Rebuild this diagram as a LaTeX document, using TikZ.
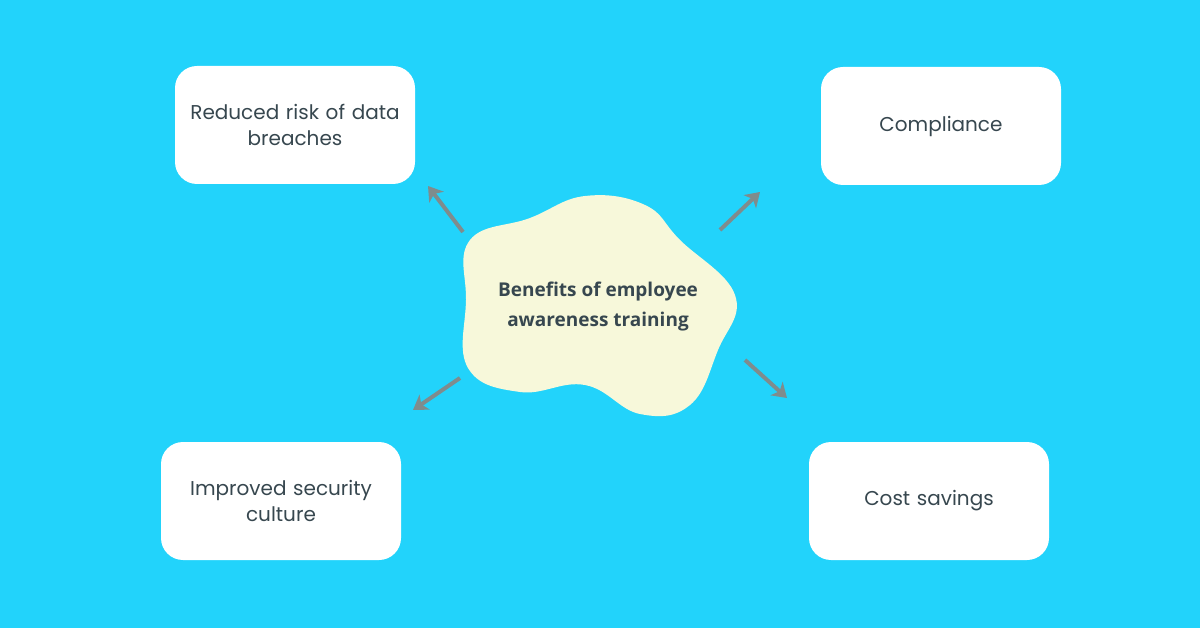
\documentclass[tikz,border=0pt]{standalone}
\usepackage{fontspec}
\setmainfont{Poppins}
\newfontfamily\boldf{Open Sans}
\usetikzlibrary{arrows.meta}
\definecolor{bg}{HTML}{22D3FB}
\definecolor{blob}{HTML}{F7F8DA}
\definecolor{txt}{HTML}{37474F}
\definecolor{arr}{HTML}{7F8C8D}
\tikzset{
 box/.style={fill=white,rounded corners=22pt,minimum width=240pt,minimum height=118pt,align=center,font=\fontsize{20}{26}\selectfont,text=txt,text width=230pt},
 conn/.style={draw=arr,line width=4pt,-{Stealth[length=14pt,width=18pt,inset=4pt]}}
}
\begin{document}
\begin{tikzpicture}[x=1pt,y=-1pt]
\fill[bg] (0,0) rectangle (1200,628);
\useasboundingbox (0,0) rectangle (1200,628);
\fill[blob] plot[smooth cycle,tension=0.7] coordinates{(470,240) (530,218) (585,196) (645,205) (680,240) (735,295) (718,350) (690,405) (640,414) (585,385) (520,392) (468,368) (466,300)};
\node[font=\boldf\bfseries\fontsize{19}{30}\selectfont,text=txt,align=center] (c) at (598,307) {Benefits of employee\\awareness training};
\node[box] (a) at (295,125) {Reduced risk of data\\breaches};
\node[box] (b) at (941,126) {Compliance};
\node[box] (d) at (281,501) {Improved security\\culture};
\node[box] (e) at (929,501) {Cost savings};
\coordinate (a1) at (463,232); \coordinate (a2) at (428,186);
\coordinate (b1) at (720,230); \coordinate (b2) at (760,192);
\coordinate (d1) at (460,378); \coordinate (d2) at (413,410);
\coordinate (e1) at (745,360); \coordinate (e2) at (787,398);
\draw[conn] (a1) -- (a2);
\draw[conn] (b1) -- (b2);
\draw[conn] (d1) -- (d2);
\draw[conn] (e1) -- (e2);
\end{tikzpicture}
\end{document}
